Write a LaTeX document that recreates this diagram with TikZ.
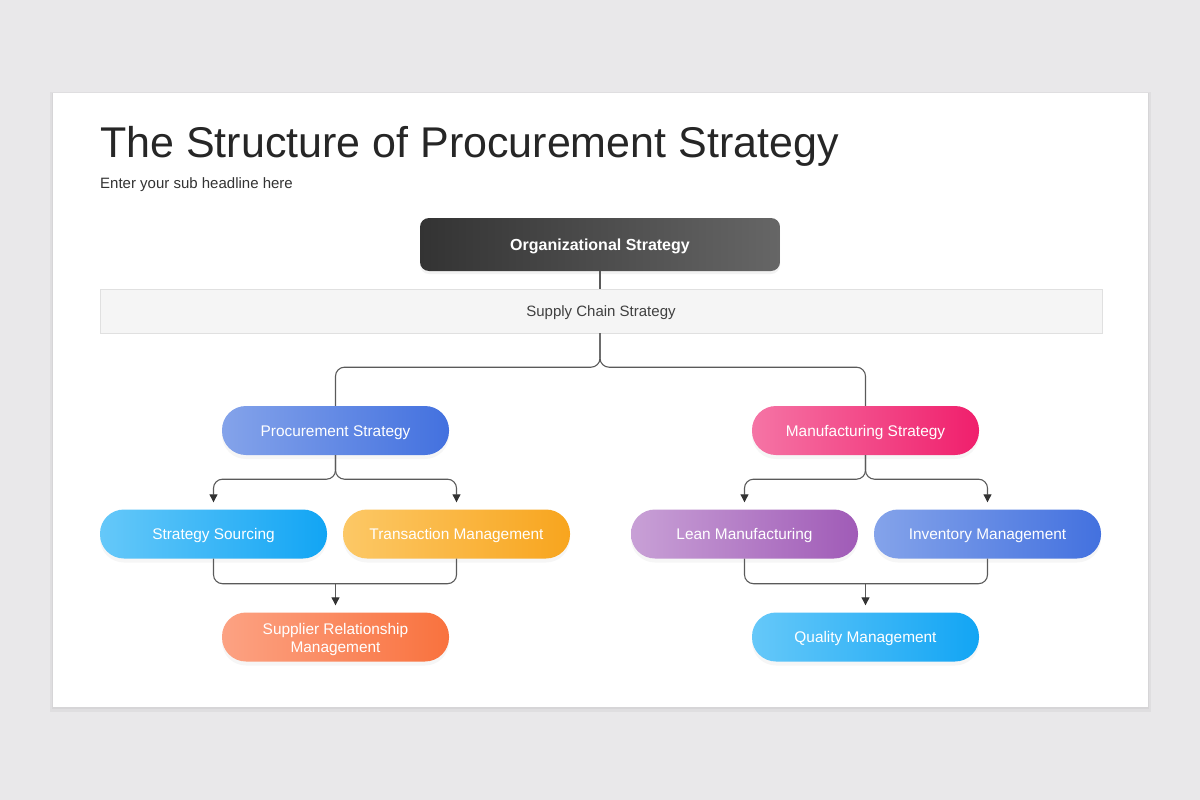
\documentclass[tikz,border=0pt]{standalone}
\usepackage{fontspec}
\setmainfont{Liberation Sans}
\usetikzlibrary{shadows}
\usetikzlibrary{arrows.meta}
\usetikzlibrary{calc}

\definecolor{pagegray}{HTML}{E9E8EA}
\definecolor{linegray}{HTML}{5A5A5A}
\definecolor{bluel}{HTML}{84A3EA}\definecolor{bluer}{HTML}{4371DF}
\definecolor{pinkl}{HTML}{F574A5}\definecolor{pinkr}{HTML}{F01F6C}
\definecolor{cyanl}{HTML}{65C8F9}\definecolor{cyanr}{HTML}{12A5F4}
\definecolor{goldl}{HTML}{FCC866}\definecolor{goldr}{HTML}{F8A51E}
\definecolor{purpl}{HTML}{C8A0D6}\definecolor{purpr}{HTML}{A05BB7}
\definecolor{orngl}{HTML}{FCA283}\definecolor{orngr}{HTML}{F9723E}

\begin{document}
\begin{tikzpicture}[x=1pt,y=-1pt,
    pill/.style={rectangle, rounded corners=24pt, minimum width=227pt, minimum height=49pt,
        text=white, font=\fontsize{15.4}{18}\selectfont, align=center,
        text height=11pt, text depth=0pt,
        drop shadow={shadow xshift=0pt, shadow yshift=-4pt, opacity=0.07}},
    link/.style={draw=linegray, line width=1.1pt, rounded corners=9pt},
    arr/.style={link, -{Triangle[width=8pt,length=8pt,color=black!80]}, shorten >=7pt}]
    % page and card
    \fill[pagegray] (0,0) rectangle (1200,800);
    \fill[black, opacity=0.04] (50,92) rectangle (1151,712);
    \fill[black, opacity=0.04] (52,93) rectangle (1149,709);
    \fill[white] (53,93) rectangle (1148,707);
    \node[anchor=base west, text=black!85, font=\fontsize{43}{46}\selectfont, inner sep=0pt]
        (title) at (100,157) {The Structure of Procurement Strategy};
    \node[anchor=base west, text=black!80, font=\fontsize{15}{17}\selectfont, inner sep=0pt]
        (sub) at (100,188) {Enter your sub headline here};
    % top levels
    \node[rectangle, rounded corners=9pt, minimum width=360pt, minimum height=53pt,
        left color=black!80, right color=black!60, text=white,
        font=\bfseries\fontsize{16}{18}\selectfont, text height=12.5pt, text depth=0pt,
        drop shadow={shadow xshift=0pt, shadow yshift=-3pt, opacity=0.1}]
        (org) at (600,244.5) {Organizational Strategy};
    \node[rectangle, fill=black!4, draw=black!12, minimum width=1002pt, minimum height=44pt,
        text=black!75, font=\fontsize{15}{17}\selectfont, text height=10pt, text depth=0pt]
        (scs) at (601,311) {Supply Chain Strategy};
    % strategies
    \node[pill, left color=bluel, right color=bluer] (proc) at (335.5,430.5) {Procurement Strategy};
    \node[pill, left color=pinkl, right color=pinkr] (manu) at (865.5,430.5) {Manufacturing Strategy};
    \node[pill, left color=cyanl, right color=cyanr] (srcg) at (213.5,534) {Strategy Sourcing};
    \node[pill, left color=goldl, right color=goldr] (trans) at (456.5,534) {Transaction Management};
    \node[pill, left color=purpl, right color=purpr] (lean) at (744.5,534) {Lean Manufacturing};
    \node[pill, left color=bluel, right color=bluer] (inv) at (987.5,534) {Inventory Management};
    \node[pill, left color=orngl, right color=orngr, text height=30pt, text depth=0pt] (srm) at (335.5,637)
        {Supplier Relationship\\Management};
    \node[pill, left color=cyanl, right color=cyanr] (qual) at (865.5,637) {Quality Management};
    % connectors
    \draw[link] (org.south) -- (org.south |- scs.north);
    \draw[link] (org.south |- scs.south) -- ++(0,34) -| (proc.north);
    \draw[link] (org.south |- scs.south) -- ++(0,34) -| (manu.north);
    \draw[arr] (proc.south) -- ++(0,24) -| (srcg.north);
    \draw[arr] (proc.south) -- ++(0,24) -| (trans.north);
    \draw[arr] (manu.south) -- ++(0,24) -| (lean.north);
    \draw[arr] (manu.south) -- ++(0,24) -| (inv.north);
    \draw[link] (srcg.south) -- ++(0,25) -| (trans.south);
    \draw[link] (lean.south) -- ++(0,25) -| (inv.south);
    \coordinate (pjoin) at ($(srm.north |- srcg.south)+(0,25)$);
    \coordinate (mjoin) at ($(qual.north |- lean.south)+(0,25)$);
    \draw[arr, rounded corners=0pt] (pjoin) -- (srm.north);
    \draw[arr, rounded corners=0pt] (mjoin) -- (qual.north);
\end{tikzpicture}
\end{document}
